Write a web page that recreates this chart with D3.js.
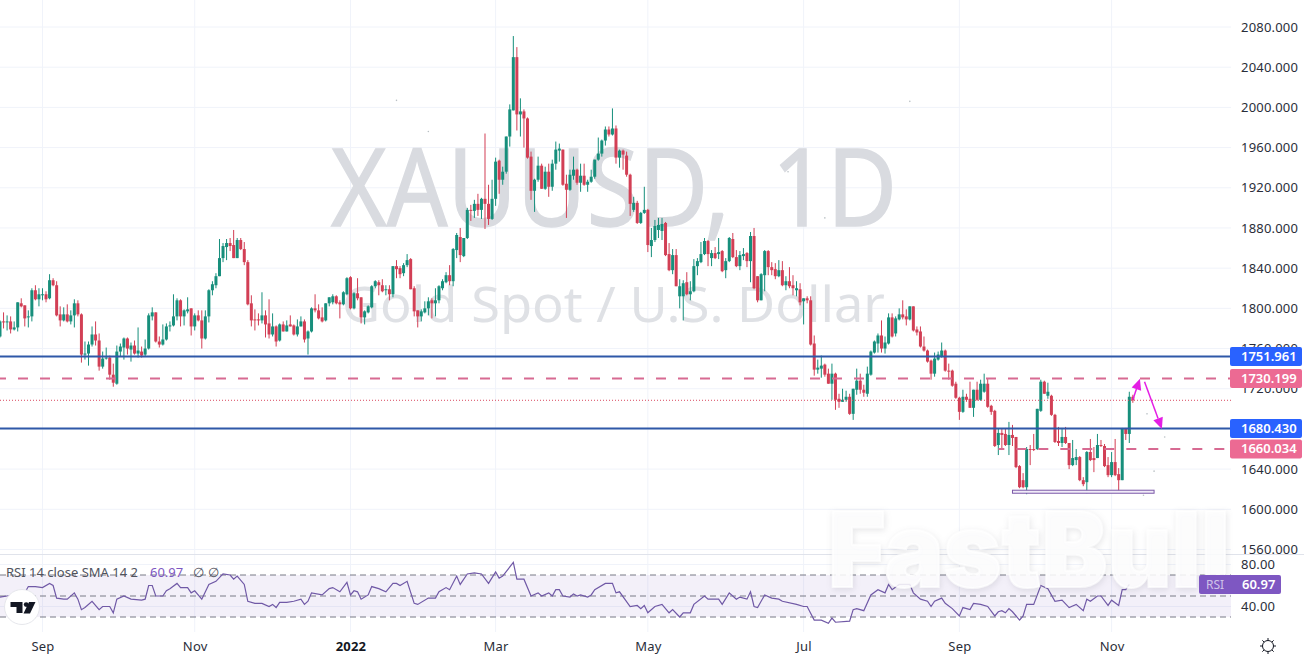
<!DOCTYPE html>
<meta charset="utf-8">
<title>XAUUSD 1D</title>
<style>
html, body { margin: 0; background: #fff; overflow: hidden; }
svg { display: block; font-family: "Noto Sans", sans-serif; }
.price-axis text, .rsi-axis text, .time-axis text { fill: #2a2e39; font-size: 13px; letter-spacing: 0.2px; }
</style>
<svg width="1304" height="656"></svg>
<script src="https://d3js.org/d3.v7.min.js"></script>
<script>
// daily candles
const opens = [
1772,1787,1786,1787,1779,1781,1805,1803,1791,1792, 1818,1809,1813,1814,1810,1828,1823,1794,1788,1794,
1787,1793,1805,1794,1754,1755,1764,1774,1768,1742, 1750,1751,1734,1725,1757,1761,1770,1759,1763,1755,
1757,1754,1760,1792,1796,1767,1764,1769,1782,1783, 1792,1808,1792,1797,1800,1782,1793,1788,1770,1792,
1818,1823,1832,1850,1861,1865,1863,1850,1868,1859, 1846,1805,1789,1789,1788,1793,1785,1774,1782,1768,
1784,1777,1784,1783,1774,1782,1787,1770,1777,1800, 1798,1791,1788,1805,1806,1812,1806,1804,1814,1831,
1800,1815,1811,1791,1796,1801,1822,1826,1823,1818, 1819,1814,1842,1840,1835,1843,1849,1820,1798,1792,
1796,1800,1808,1805,1808,1820,1826,1833,1827,1858, 1871,1852,1870,1898,1897,1904,1898,1909,1904,1889,
1909,1947,1928,1936,1971,1997,2050,1993,1996,1989, 1951,1917,1928,1942,1919,1936,1921,1944,1957,1958,
1924,1918,1932,1938,1925,1932,1923,1926,1931,1948, 1954,1967,1978,1973,1979,1950,1957,1952,1933,1898,
1905,1885,1895,1898,1862,1868,1878,1877,1885,1854, 1838,1853,1812,1812,1826,1814,1817,1842,1846,1854,
1867,1850,1855,1854,1857,1838,1847,1869,1851,1842, 1852,1855,1847,1872,1832,1808,1833,1857,1841,1839,
1832,1838,1823,1827,1823,1818,1819,1807,1810,1808, 1765,1739,1740,1744,1735,1725,1735,1710,1707,1709,
1712,1695,1719,1728,1719,1715,1734,1756,1765,1773, 1760,1765,1791,1775,1789,1794,1792,1789,1802,1779,
1777,1762,1758,1748,1735,1749,1752,1758,1738,1738, 1725,1711,1697,1712,1710,1701,1719,1709,1717,1725,
1703,1698,1664,1676,1675,1664,1674,1672,1643,1629, 1622,1660,1660,1660,1698,1727,1713,1713,1694,1668,
1666,1672,1666,1644,1649,1652,1629,1627,1657,1651, 1651,1664,1663,1644,1634,1647,1635,1629,1680,1675,
1712];
const highs = [
1788,1796,1793,1792,1787,1806,1810,1803,1798,1820, 1823,1820,1820,1817,1834,1830,1827,1802,1801,1804,
1798,1809,1808,1795,1767,1767,1782,1787,1775,1757, 1761,1753,1745,1763,1765,1771,1771,1766,1768,1781,
1762,1769,1795,1801,1796,1772,1784,1785,1787,1814, 1810,1809,1799,1811,1800,1795,1798,1798,1798,1819,
1827,1835,1869,1865,1869,1870,1878,1870,1870,1866, 1848,1813,1799,1795,1816,1798,1809,1795,1783,1785,
1787,1788,1793,1784,1789,1792,1789,1778,1801,1814, 1804,1801,1805,1811,1814,1813,1808,1817,1831,1832,
1816,1830,1811,1798,1803,1823,1828,1828,1829,1823, 1823,1842,1848,1842,1845,1854,1850,1822,1798,1799,
1807,1811,1810,1820,1823,1829,1836,1843,1860,1875, 1880,1870,1900,1903,1908,1914,1910,1974,1923,1928,
1950,1948,1941,1971,2003,2071,2060,2009,1998,1990, 1956,1929,1951,1944,1941,1944,1948,1966,1964,1958,
1933,1938,1951,1939,1944,1944,1928,1938,1948,1970, 1968,1981,1981,1999,1982,1958,1958,1956,1934,1911,
1907,1896,1921,1899,1880,1888,1890,1890,1886,1865, 1859,1859,1829,1828,1836,1827,1849,1850,1866,1870,
1868,1858,1861,1870,1858,1850,1871,1875,1858,1857, 1860,1856,1876,1880,1832,1835,1858,1858,1846,1845,
1848,1847,1832,1841,1833,1827,1825,1810,1812,1812, 1773,1749,1753,1745,1740,1745,1736,1715,1720,1718,
1715,1720,1740,1735,1724,1742,1758,1768,1775,1788, 1772,1795,1795,1792,1800,1808,1799,1802,1802,1782,
1782,1772,1759,1749,1756,1757,1766,1759,1745,1739, 1727,1712,1719,1715,1727,1719,1727,1729,1735,1730,
1704,1699,1680,1680,1680,1687,1684,1672,1644,1636, 1662,1664,1675,1700,1729,1728,1726,1714,1695,1682,
1681,1682,1666,1669,1660,1653,1632,1658,1670,1662, 1675,1669,1665,1652,1657,1670,1641,1681,1681,1717,
1714];
const lows = [
1771,1780,1778,1775,1778,1777,1801,1782,1781,1787, 1808,1802,1808,1806,1809,1822,1792,1782,1787,1786,
1784,1781,1792,1746,1749,1743,1762,1763,1738,1740, 1749,1729,1722,1724,1752,1749,1754,1747,1754,1751,
1751,1752,1759,1788,1766,1761,1763,1768,1777,1782, 1788,1782,1783,1795,1773,1778,1787,1760,1769,1786,
1813,1820,1832,1846,1848,1857,1850,1850,1858,1843, 1803,1782,1778,1783,1785,1771,1770,1772,1762,1767,
1777,1777,1782,1773,1772,1782,1766,1754,1776,1796, 1789,1786,1787,1802,1804,1804,1790,1803,1813,1799,
1799,1808,1785,1784,1795,1800,1820,1813,1816,1813, 1808,1811,1830,1830,1832,1841,1819,1792,1781,1787,
1795,1793,1790,1792,1805,1818,1825,1823,1822,1850, 1846,1851,1869,1887,1890,1892,1889,1879,1883,1888,
1902,1914,1923,1934,1961,1997,1977,1971,1960,1949, 1908,1896,1926,1919,1918,1911,1917,1938,1946,1922,
1890,1917,1928,1923,1916,1922,1916,1925,1929,1947, 1951,1962,1971,1972,1944,1940,1938,1931,1892,1896,
1884,1884,1894,1856,1851,1866,1870,1868,1852,1837, 1834,1822,1800,1788,1813,1808,1816,1833,1845,1853,
1842,1842,1849,1849,1836,1830,1846,1850,1841,1838, 1848,1841,1826,1819,1806,1808,1817,1833,1833,1829,
1831,1822,1818,1820,1813,1812,1803,1784,1805,1763, 1733,1735,1731,1732,1725,1709,1699,1701,1707,1707,
1694,1689,1714,1715,1712,1712,1733,1755,1756,1756, 1755,1764,1771,1772,1788,1789,1783,1788,1777,1773,
1761,1757,1746,1729,1732,1748,1751,1737,1729,1722, 1710,1689,1696,1707,1701,1692,1708,1708,1716,1701,
1694,1662,1654,1659,1663,1654,1663,1641,1621,1621, 1615,1644,1658,1659,1697,1715,1710,1693,1666,1663,
1662,1665,1640,1643,1644,1628,1623,1616,1648,1637, 1651,1662,1642,1632,1632,1633,1617,1629,1669,1666,
1706];
const closes = [
1787,1786,1787,1779,1781,1806,1802,1790,1792,1818, 1809,1814,1814,1809,1828,1823,1793,1788,1794,1787,
1793,1805,1794,1754,1755,1764,1774,1768,1742,1750, 1751,1734,1726,1757,1762,1770,1760,1763,1755,1758,
1753,1760,1793,1796,1767,1764,1769,1782,1783,1792, 1808,1792,1798,1799,1782,1793,1788,1770,1792,1818,
1824,1832,1850,1862,1865,1862,1850,1868,1859,1846, 1804,1788,1788,1788,1793,1784,1774,1782,1767,1784,
1777,1783,1782,1774,1782,1787,1769,1777,1800,1798, 1790,1787,1805,1811,1812,1805,1804,1816,1830,1800,
1815,1810,1791,1797,1802,1822,1827,1823,1817,1819, 1814,1842,1839,1834,1843,1848,1819,1797,1792,1797,
1800,1807,1805,1808,1822,1827,1833,1827,1859,1873, 1853,1870,1898,1897,1904,1898,1909,1904,1889,1909,
1946,1928,1936,1971,1998,2050,1993,1996,1989,1950, 1917,1928,1942,1919,1936,1921,1944,1958,1959,1923,
1918,1933,1938,1925,1932,1923,1926,1931,1948,1954, 1967,1978,1973,1979,1950,1957,1953,1933,1904,1905,
1885,1895,1898,1863,1868,1882,1883,1884,1853,1838, 1853,1822,1822,1825,1814,1817,1842,1847,1854,1867,
1854,1855,1850,1856,1837,1847,1870,1851,1842,1853, 1854,1847,1872,1820,1808,1834,1857,1841,1838,1832,
1838,1823,1827,1822,1820,1820,1806,1810,1808,1764, 1739,1741,1743,1734,1725,1735,1709,1707,1709,1712,
1695,1720,1728,1719,1716,1735,1757,1767,1773,1760, 1766,1791,1772,1790,1794,1791,1789,1802,1778,1776,
1762,1758,1747,1735,1750,1754,1758,1738,1737,1723, 1711,1697,1712,1709,1701,1719,1709,1725,1725,1702,
1697,1663,1676,1674,1664,1674,1671,1642,1622,1622, 1660,1659,1659,1700,1727,1715,1717,1694,1667,1666,
1672,1666,1644,1651,1652,1629,1625,1657,1649,1649, 1664,1663,1643,1634,1647,1634,1629,1680,1675,1712,
1708.5];

// RSI, read at the turning points of the line
const rsiBars = [0,2,4,6,7,8,10,12,14,15,16,18,19,21,22,23,24,26,28,29,31,32,33,35,37,40,41,42,43,44,46,47,48,50,51,53,54,55,57,59,61,63,65,66,67,69,70,72,74,76,77,78,79,81,83,85,86,87,88,
91,93,94,96,98,99,100,101,102,104,105,107,109,111,112,113,115,117,118,121,123,124,126,127,129,130,132,134,136,138,140,141,142,145,146,148,150,152,153,155,156,157,158,159,161,162,163,164,166,167,168,171,173,174,175,178,180,181,182,183,185,187,189,190,192,193,195,196,199,200,203,204,206,208,209,211,212,213,214,216,218,220,221,225,227,228,230,232,234,235,236,240,241,242,244,246,248,250,251,252,254,257,258,260,262,263,264,266,267,269,271,272,274,275,277,
279,281,282,283,284,285,286,288,289,290,292,294,296,298,300,302,304,306,307,308,310,311,313,314,316,317,318,319];
const rsiValues = [49,50,51,54,53,59,59,58,62,60,48,47,47,53,47,37,39,45,37,40,40,34,47,50,47,46,47,60,60,50,50,55,57,62,58,58,53,55,47,61,64,71,70,66,69,61,45,43,43,40,42,39,44,44,45,47,42,45,53,
51,57,58,54,63,51,55,54,47,51,59,57,54,62,62,60,64,43,42,48,48,54,58,56,69,61,71,72,71,62,73,67,69,82,66,66,50,53,50,53,50,56,56,50,49,52,50,51,49,51,56,62,62,53,54,40,41,38,41,34,40,42,34,37,30,34,34,42,50,47,47,42,53,47,49,47,54,40,39,51,48,47,45,42,40,40,27,27,24,29,25,26,37,38,36,51,56,53,61,56,61,61,53,47,45,40,45,48,43,38,31,39,37,43,42,
40,31,35,36,34,38,35,27,31,42,42,60,57,45,46,39,42,36,47,45,50,50,41,46,41,56,56,61];

const priceTicks = d3.range(1560, 2081, 40);
const rsiTicks = [80, 40];
const rsiBands = [70, 50, 30];
const timeBars = [12, 55, 99, 140, 183, 227, 271, 314];
const timeLabels = ["Sep", "Nov", "2022", "Mar", "May", "Jul", "Sep", "Nov"];

const solidLevels = [1751.961, 1680.43];
const dashedLevels = [1730.199, 1660.034];
const upColor = "#178f7c", downColor = "#d23f55";

const svg = d3.select("svg");
const x = d3.scaleLinear().domain([0, 319]).range([0, 1129.3]);
const y = d3.scaleLinear().domain([1560, 2080]).range([549.5, 27]);
const yRsi = d3.scaleLinear().domain([30, 70]).range([617, 575]);
const plotRight = 1231;
const fmt = d3.format(".3f");

// grid
const grid = svg.append("g").attr("stroke", "#f0f3fa");
grid.selectAll("line.h").data(priceTicks).join("line").attr("class", "h")
  .attr("x1", 0).attr("x2", plotRight).attr("y1", d => y(d)).attr("y2", d => y(d));
grid.selectAll("line.r").data(rsiTicks).join("line").attr("class", "r")
  .attr("x1", 0).attr("x2", plotRight).attr("y1", d => yRsi(d)).attr("y2", d => yRsi(d));
grid.selectAll("line.v").data(timeBars).join("line").attr("class", "v")
  .attr("x1", d => x(d)).attr("x2", d => x(d)).attr("y1", 0).attr("y2", 632);
svg.append("line").attr("x1", 0).attr("x2", 1304).attr("y1", 554.5).attr("y2", 554.5).attr("stroke", "#e0e3eb");

// symbol watermark
const mark = svg.append("g").attr("fill", "#d9dbe0").attr("stroke", "#d9dbe0");
mark.append("text").text("XAUUSD,").attr("x", 331).attr("y", 226)
  .attr("textLength", 399).attr("lengthAdjust", "spacingAndGlyphs")
  .attr("font-size", 107).attr("stroke-width", 1.4);
mark.append("text").text("1D").attr("x", 772).attr("y", 226)
  .attr("textLength", 125).attr("lengthAdjust", "spacingAndGlyphs")
  .attr("font-size", 107).attr("stroke-width", 1.4);
svg.append("text").text("Gold Spot / U.S. Dollar").attr("x", 342).attr("y", 322)
  .attr("textLength", 543).attr("lengthAdjust", "spacingAndGlyphs")
  .attr("font-size", 50).attr("fill", "#dfe1e5");

// candles
const bars = d3.range(opens.length);
const candle = svg.append("g").selectAll("g").data(bars).join("g")
  .attr("fill", i => closes[i] >= opens[i] ? upColor : downColor);
candle.append("rect").attr("x", i => x(i) - 0.5).attr("width", 1)
  .attr("y", i => y(highs[i])).attr("height", i => y(lows[i]) - y(highs[i]));
candle.append("rect").attr("x", i => x(i) - 1.5).attr("width", 3)
  .attr("y", i => y(Math.max(opens[i], closes[i])))
  .attr("height", i => Math.max(1, Math.abs(y(opens[i]) - y(closes[i]))));

// drawings
const closeLevel = closes[closes.length - 1];
svg.append("line").attr("x1", 0).attr("x2", plotRight).attr("y1", y(closeLevel)).attr("y2", y(closeLevel))
  .attr("stroke", "#d9485f").attr("stroke-width", 1).attr("stroke-dasharray", "1 2");
svg.selectAll("line.solid").data(solidLevels).join("line").attr("class", "solid")
  .attr("x1", 0).attr("x2", plotRight).attr("y1", d => y(d)).attr("y2", d => y(d))
  .attr("stroke", "#2f58a8").attr("stroke-width", 2);
svg.selectAll("line.dashed").data(dashedLevels).join("line").attr("class", "dashed")
  .attr("x1", (d, i) => i ? x(282) : 0).attr("x2", plotRight).attr("y1", d => y(d)).attr("y2", d => y(d))
  .attr("stroke", "#d76a92").attr("stroke-width", 2).attr("stroke-dasharray", "10 12").attr("stroke-dashoffset", 4);
svg.append("rect").attr("x", x(286)).attr("width", x(326) - x(286))
  .attr("y", y(1619)).attr("height", y(1616) - y(1619))
  .attr("fill", "#f1ecf8").attr("stroke", "#7b58a8").attr("stroke-width", 1);

const arrows = [[[320, 1709], [322, 1730]], [[323.3, 1727], [328.2, 1680]]];
arrows.forEach(([a, b]) => {
  const x1 = x(a[0]), y1 = y(a[1]), x2 = x(b[0]), y2 = y(b[1]);
  const ang = Math.atan2(y2 - y1, x2 - x1), len = 11, wide = 5;
  const bx = x2 - len * Math.cos(ang), by = y2 - len * Math.sin(ang);
  svg.append("line").attr("x1", x1).attr("y1", y1).attr("x2", bx).attr("y2", by)
    .attr("stroke", "#e41ee4").attr("stroke-width", 1.5);
  svg.append("path").attr("fill", "#e41ee4").attr("d", d3.line()([
    [x2, y2],
    [bx - wide * Math.sin(ang), by + wide * Math.cos(ang)],
    [bx + wide * Math.sin(ang), by - wide * Math.cos(ang)]
  ]) + "Z");
});

const strayBars = [112, 121, 222.6, 233, 257, 323, 324, 326, 329];
const strayPrices = [2007, 1976, 1936, 1890, 2006, 1614, 1695, 1638, 1672];
svg.selectAll("circle.stray").data(strayBars).join("circle").attr("class", "stray")
  .attr("cx", d => x(d)).attr("cy", (d, i) => y(strayPrices[i])).attr("r", 0.8).attr("fill", "#b9c0c4");

// RSI pane
svg.append("rect").attr("x", 0).attr("width", plotRight).attr("y", yRsi(70)).attr("height", yRsi(30) - yRsi(70))
  .attr("fill", "#7e57c2").attr("fill-opacity", 0.09);
svg.selectAll("line.band").data(rsiBands).join("line").attr("class", "band")
  .attr("x1", 0).attr("x2", plotRight).attr("y1", d => yRsi(d)).attr("y2", d => yRsi(d))
  .attr("stroke", "#787b86").attr("stroke-dasharray", "6 4");
svg.append("path").datum(rsiBars)
  .attr("fill", "none").attr("stroke", "#7059a6").attr("stroke-width", 1.2)
  .attr("d", d3.line().x(d => x(d)).y((d, i) => yRsi(rsiValues[i])));

const legend = svg.append("g").attr("font-size", 13).attr("fill", "#50535e");
legend.append("text").text("RSI 14 close SMA 14 2").attr("x", 6).attr("y", 577);
legend.append("text").text("60.97").attr("x", 150).attr("y", 577).attr("fill", "#7e57c2");
legend.append("text").text("∅").attr("x", 193).attr("y", 577);
legend.append("text").text("∅").attr("x", 208).attr("y", 577);

// logo
const logo = svg.append("g");
logo.append("circle").attr("cx", 22).attr("cy", 607).attr("r", 17.5)
  .attr("fill", "#fff").attr("stroke", "#e6e7ec");
logo.append("path").attr("fill", "#131722")
  .attr("d", "M10.5 602h12v11h-6v-6h-6zM29 602h6.5l-5.5 11.5h-6.5z");
logo.append("circle").attr("cx", 26.2).attr("cy", 604.6).attr("r", 2.4).attr("fill", "#131722");

// axes
const priceAxis = svg.append("g").attr("class", "price-axis").attr("transform", "translate(1241,0)")
  .call(d3.axisRight(y).tickValues(priceTicks).tickSize(0).tickPadding(0).tickFormat(fmt));
priceAxis.select(".domain").remove();
priceAxis.selectAll("text").style("font-family", "'Noto Sans', sans-serif");

const rsiAxis = svg.append("g").attr("class", "rsi-axis").attr("transform", "translate(1241,0)")
  .call(d3.axisRight(yRsi).tickValues(rsiTicks).tickSize(0).tickPadding(0).tickFormat(d3.format(".2f")));
rsiAxis.select(".domain").remove();
rsiAxis.selectAll("text").style("font-family", "'Noto Sans', sans-serif");

const timeAxis = svg.append("g").attr("class", "time-axis").attr("transform", "translate(0,642)")
  .call(d3.axisBottom(x).tickValues(timeBars).tickSize(0).tickPadding(0)
    .tickFormat((d, i) => timeLabels[i]));
timeAxis.select(".domain").remove();
timeAxis.selectAll("text").style("font-family", "'Noto Sans', sans-serif")
  .attr("font-weight", d => d === 99 ? 700 : 400)
  .style("fill", d => d === 99 ? "#131722" : "#2a2e39");

// price labels on the right edge
const tags = [
  { v: solidLevels[0], c: "#2962ff" }, { v: dashedLevels[0], c: "#ec6a93" },
  { v: solidLevels[1], c: "#2962ff" }, { v: dashedLevels[1], c: "#ec6a93" }
];
const tag = svg.selectAll("g.tag").data(tags).join("g").attr("class", "tag")
  .attr("transform", d => `translate(1230,${y(d.v)})`);
tag.append("rect").attr("y", -9.5).attr("width", 72).attr("height", 19).attr("rx", 2).attr("fill", d => d.c);
tag.append("text").text(d => fmt(d.v)).attr("x", 11).attr("y", 4.5)
  .attr("fill", "#fff").attr("font-size", 13).attr("font-weight", 600);

// settings icon
const gear = svg.append("g").attr("transform", "translate(1268,646)").attr("stroke", "#131722").attr("fill", "none");
gear.append("circle").attr("r", 5.5);
gear.selectAll("line").data(d3.range(8)).join("line")
  .attr("x1", d => 5.5 * Math.cos(d * Math.PI / 4)).attr("y1", d => 5.5 * Math.sin(d * Math.PI / 4))
  .attr("x2", d => 8 * Math.cos(d * Math.PI / 4)).attr("y2", d => 8 * Math.sin(d * Math.PI / 4));

// FastBull stamp sits over the panes
svg.append("text").text("FastBull").attr("x", 828).attr("y", 587)
  .attr("textLength", 402).attr("lengthAdjust", "spacingAndGlyphs")
  .attr("font-family", "Inter").attr("font-size", 104).attr("font-weight", 900)
  .attr("fill", "#fff").attr("fill-opacity", 0.86)
  .attr("stroke", "#fff").attr("stroke-opacity", 0.7).attr("stroke-width", 2)
  .style("filter", "drop-shadow(1px 2px 3px rgba(60,60,70,0.14))");

// RSI tag stays readable above the stamp
const rsiTag = svg.append("g").attr("transform", `translate(1199,${yRsi(rsiValues[rsiValues.length - 1])})`);
rsiTag.append("rect").attr("y", -9.5).attr("width", 82).attr("height", 19).attr("rx", 2).attr("fill", "#7e57c2");
rsiTag.append("text").text("RSI").attr("x", 7).attr("y", 4.5).attr("fill", "#fff").attr("fill-opacity", 0.65).attr("font-size", 12);
rsiTag.append("text").text("60.97").attr("x", 43).attr("y", 4.5).attr("fill", "#fff").attr("font-size", 13).attr("font-weight", 600);
</script>
